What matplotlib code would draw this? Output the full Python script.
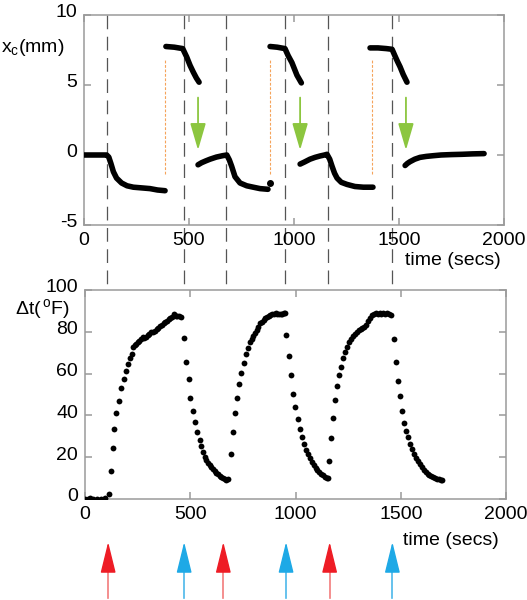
import matplotlib
matplotlib.use("Agg")
import matplotlib.pyplot as plt
import matplotlib.transforms as mtransforms
import numpy as np

plt.rcParams["font.family"] = ["Liberation Sans", "DejaVu Sans"]
plt.rcParams["mathtext.fontset"] = "custom"
plt.rcParams["mathtext.rm"] = "Liberation Sans"
plt.rcParams["mathtext.it"] = "Liberation Sans"
plt.rcParams["axes.unicode_minus"] = False

# ---- top panel: x_c (mm) vs time, one list per segment ----
seg1_t = [0, 60, 108, 118, 128, 140, 155, 179, 205, 235, 275, 314, 350, 386]
seg1_x = [0, 0, 0, -0.15, -0.6, -1.2, -1.65, -2.0, -2.2, -2.3, -2.35, -2.4, -2.5, -2.55]
seg2_t = [390, 430, 470, 489, 505, 521, 535, 548]
seg2_x = [7.75, 7.7, 7.6, 7.0, 6.4, 5.9, 5.5, 5.2]
seg3_t = [543, 560, 580, 600, 630, 660, 680, 692, 703, 719, 743, 775, 806, 838, 876]
seg3_x = [-0.7, -0.55, -0.42, -0.3, -0.15, -0.05, 0.0, -0.35, -0.8, -1.55, -2.0, -2.2, -2.3, -2.4, -2.45]
seg4_t = [886, 920, 957, 972, 990, 1014, 1035]
seg4_x = [7.75, 7.7, 7.6, 7.1, 6.6, 5.7, 5.15]
seg5_t = [1029, 1050, 1076, 1100, 1124, 1145, 1157, 1170, 1181, 1193, 1205, 1225, 1252, 1290, 1330, 1376]
seg5_x = [-0.65, -0.5, -0.3, -0.17, -0.07, 0.0, 0.05, -0.3, -0.8, -1.3, -1.65, -1.95, -2.1, -2.25, -2.3, -2.3]
seg6_t = [1362, 1400, 1440, 1467, 1480, 1492, 1505, 1520, 1538]
seg6_x = [7.65, 7.65, 7.6, 7.55, 7.1, 6.7, 6.3, 5.75, 5.2]
seg7_t = [1529, 1540, 1552, 1575, 1600, 1630, 1663, 1700, 1750, 1800, 1850, 1905]
seg7_x = [-0.75, -0.6, -0.48, -0.3, -0.17, -0.1, -0.05, 0.0, 0.03, 0.05, 0.08, 0.1]
top_segments = [(seg1_t, seg1_x), (seg2_t, seg2_x), (seg3_t, seg3_x), (seg4_t, seg4_x),
                (seg5_t, seg5_x), (seg6_t, seg6_x), (seg7_t, seg7_x)]
stray_t = [886]
stray_x = [-2.0]

# jumps (orange) and relaxations (green arrows)
jump_t = [386, 886, 1371]
jump_lo, jump_hi = -1.35, 6.85
relax_t = [543, 1029, 1533]
relax_from, relax_to = 4.1, 0.35

# ---- bottom panel: delta t (F) vs time ----
dt_t = [0, 12, 25, 40, 55, 75, 95, 112, 124, 133, 140, 149, 160, 172, 183, 194, 205, 215, 222,
        230, 236, 243, 250, 258, 266, 274, 282, 290, 298, 306, 315, 323, 332, 340, 348, 357,
        365, 373, 382, 390, 398, 406, 414, 422, 430, 438, 446, 455,
        470, 481, 492, 501, 512, 524, 533, 544, 552, 560, 568, 576, 584, 592, 600, 608, 616,
        624, 632, 640, 648, 656, 664, 672, 679,
        692, 703, 714, 724, 733, 743, 754, 765, 775, 783, 791, 799, 807, 815, 823, 831, 840,
        849, 857, 865, 873, 881, 889, 897, 905, 913, 921, 929, 937, 945, 952,
        957, 968, 979, 989, 998, 1010, 1019, 1029, 1040, 1049, 1059, 1068, 1077, 1086, 1095,
        1104, 1113, 1122, 1131, 1140, 1148, 1153,
        1159, 1167, 1178, 1187, 1198, 1208, 1217, 1227, 1236, 1246, 1255, 1264, 1273, 1282,
        1291, 1300, 1309, 1318, 1327, 1336, 1345, 1354, 1363, 1372, 1381, 1390, 1399, 1408,
        1417, 1426, 1435, 1444, 1452,
        1468, 1478, 1487, 1497, 1506, 1516, 1525, 1535, 1544, 1555, 1564, 1573, 1582, 1591,
        1600, 1609, 1618, 1627, 1636, 1645, 1655, 1664, 1673, 1682, 1691, 1698]
dt_v = [0.2, 0.2, 0.3, 0.2, 0.0, 0.0, 0.3, 2.5, 13.4, 24.4, 33.5, 41, 47, 53, 57.4, 61.4, 64.6,
        67.5, 69.4, 72.8, 73.5, 74.3, 75, 75.6, 76.6, 77.3, 77.2, 77.5, 78.4, 79, 79.8, 80.1,
        80.6, 81.3, 82, 82.7, 83.3, 84.1, 84.7, 85.3, 86, 86.6, 87.2, 88.5, 87.8, 87.4, 87.4,
        87.2,
        77.2, 65.4, 57.3, 48.3, 42.1, 36.8, 32.2, 28.2, 25.5, 22.3, 20.2, 18.7, 17.3, 16.2,
        15.2, 14.3, 13.4, 12.6, 11.9, 11.2, 10.6, 10.0, 9.5, 9.0, 9.8,
        21.4, 31.9, 41, 48.2, 55, 60.1, 65.2, 69.2, 72.4, 75, 76.5, 78, 79.5, 81, 82.5, 84,
        84.8, 85.5, 86.5, 87.3, 87.8, 88.2, 88.6, 88.5, 88.8, 88.6, 88.7, 88.7, 88.7, 88.8,
        88.8,
        78.5, 68.4, 59.3, 50.2, 44.2, 38.3, 33.3, 29.8, 26.1, 23.4, 21.4, 19.5, 17.8, 16.3,
        15.0, 13.9, 12.9, 12.0, 11.3, 10.7, 10.2, 10.0,
        18.3, 29.3, 39, 47.4, 54, 59.3, 63, 67.3, 70.5, 72.9, 75.3, 76.5, 77.8, 78.8, 79.8,
        80.8, 81.5, 82, 82.5, 83.3, 85, 86.8, 88, 88.5, 88.9, 88.5, 89, 88.6, 89, 88.6, 88.8,
        88.4, 88.2,
        76.4, 65.4, 56.5, 49.3, 42.1, 36.5, 32.7, 29.5, 26.4, 23.8, 21.5, 19.6, 18.0, 16.6,
        15.2, 14.0, 13.0, 12.2, 11.5, 10.9, 10.4, 10.0, 9.7, 9.5, 9.3, 9.1]

# events: dashed lines through both panels, heater arrows underneath
event_t = [110, 476, 676, 957, 1162, 1467]
heat_on_t = [110, 657, 1162]
heat_off_t = [471, 955, 1460]

spine_col = "#9a9a9a"

fig = plt.figure(figsize=(5.27, 6.0), dpi=100)
ax1 = fig.add_axes([0.1594, 0.625, 0.797, 0.35])
ax2 = fig.add_axes([0.1613, 0.1683, 0.799, 0.3483])

for ax in (ax1, ax2):
    for s in ax.spines.values():
        s.set_color(spine_col)
        s.set_linewidth(1.1)
    ax.tick_params(direction="in", length=5, width=1.1, color=spine_col,
                   top=True, right=True, labelsize=14, pad=5)
    ax.set_xlim(0, 2000)
    ax.set_xticks([0, 500, 1000, 1500, 2000])

# top panel
ax1.set_ylim(-5, 10)
ax1.set_yticks([-5, 0, 5, 10])
for t, x in top_segments:
    ax1.plot(t, x, color="black", lw=4, solid_capstyle="round", solid_joinstyle="round", zorder=4)
ax1.plot(stray_t, stray_x, "o", color="black", ms=4, zorder=4)
for t in jump_t:
    ax1.plot([t, t], [jump_lo, jump_hi], color="#f5a35a", lw=0.8, ls=(0, (2.5, 1.5)), zorder=2)
for t in relax_t:
    ax1.annotate("", xy=(t, relax_to), xytext=(t, relax_from),
                 arrowprops=dict(arrowstyle="-|>,head_length=16.5,head_width=4.8",
                                 mutation_scale=1, color="#8cc63f", lw=1.3,
                                 shrinkA=0, shrinkB=0), zorder=3)
ax1.text(0.993, -0.167, "time (secs)", transform=ax1.transAxes, ha="right", va="center",
         fontsize=14)

# bottom panel
ax2.set_ylim(0, 100)
ax2.set_yticks([0, 20, 40, 60, 80, 100])
ax2.plot(dt_t, dt_v, "o", color="black", ms=4.2, mec="none", zorder=4)
ax2.text(0.983, -0.20, "time (secs)", transform=ax2.transAxes, ha="right", va="center",
         fontsize=14)

# y tick labels sit a few pixels above their ticks in the original
lift = mtransforms.ScaledTranslation(0, 3 / 72, fig.dpi_scale_trans)
for ax in (ax1, ax2):
    for lab in ax.get_yticklabels():
        lab.set_transform(lab.get_transform() + lift)

# dashed event lines spanning both panels
trans1 = mtransforms.blended_transform_factory(ax1.transData, ax1.transAxes)
for t in event_t:
    ax1.plot([t, t], [1.0, -1.31], transform=trans1, clip_on=False, color="#555555",
             lw=0.9, dashes=(11, 6), zorder=1)

# heater on/off arrows under the bottom panel
trans2 = mtransforms.blended_transform_factory(ax2.transData, ax2.transAxes)
tip, base, foot = -0.206, -0.340, -0.474
for times, head_col, shaft_col in [(heat_on_t, "#ee1c25", "#f27c7c"),
                                   (heat_off_t, "#1ea9e6", "#4cb8ea")]:
    for t in times:
        ax2.plot([t, t], [base, foot], transform=trans2, clip_on=False, color=shaft_col, lw=1.2)
        ax2.annotate("", xy=(t, tip), xytext=(t, base), xycoords=trans2, textcoords=trans2,
                     annotation_clip=False,
                     arrowprops=dict(arrowstyle="-|>,head_length=19.5,head_width=4.8",
                                     mutation_scale=1, color=head_col, lw=1,
                                     shrinkA=0, shrinkB=0))

fig.text(65 / 527, 1 - 47 / 600, r"x$_{\rm c}$(mm)", ha="right", va="center", fontsize=14)
fig.text(70 / 527, 1 - 309 / 600, r"$\Delta$t($\,{}^{\rm o}$F)", ha="right", va="center",
         fontsize=14)

fig.savefig("out.png", dpi=100)
